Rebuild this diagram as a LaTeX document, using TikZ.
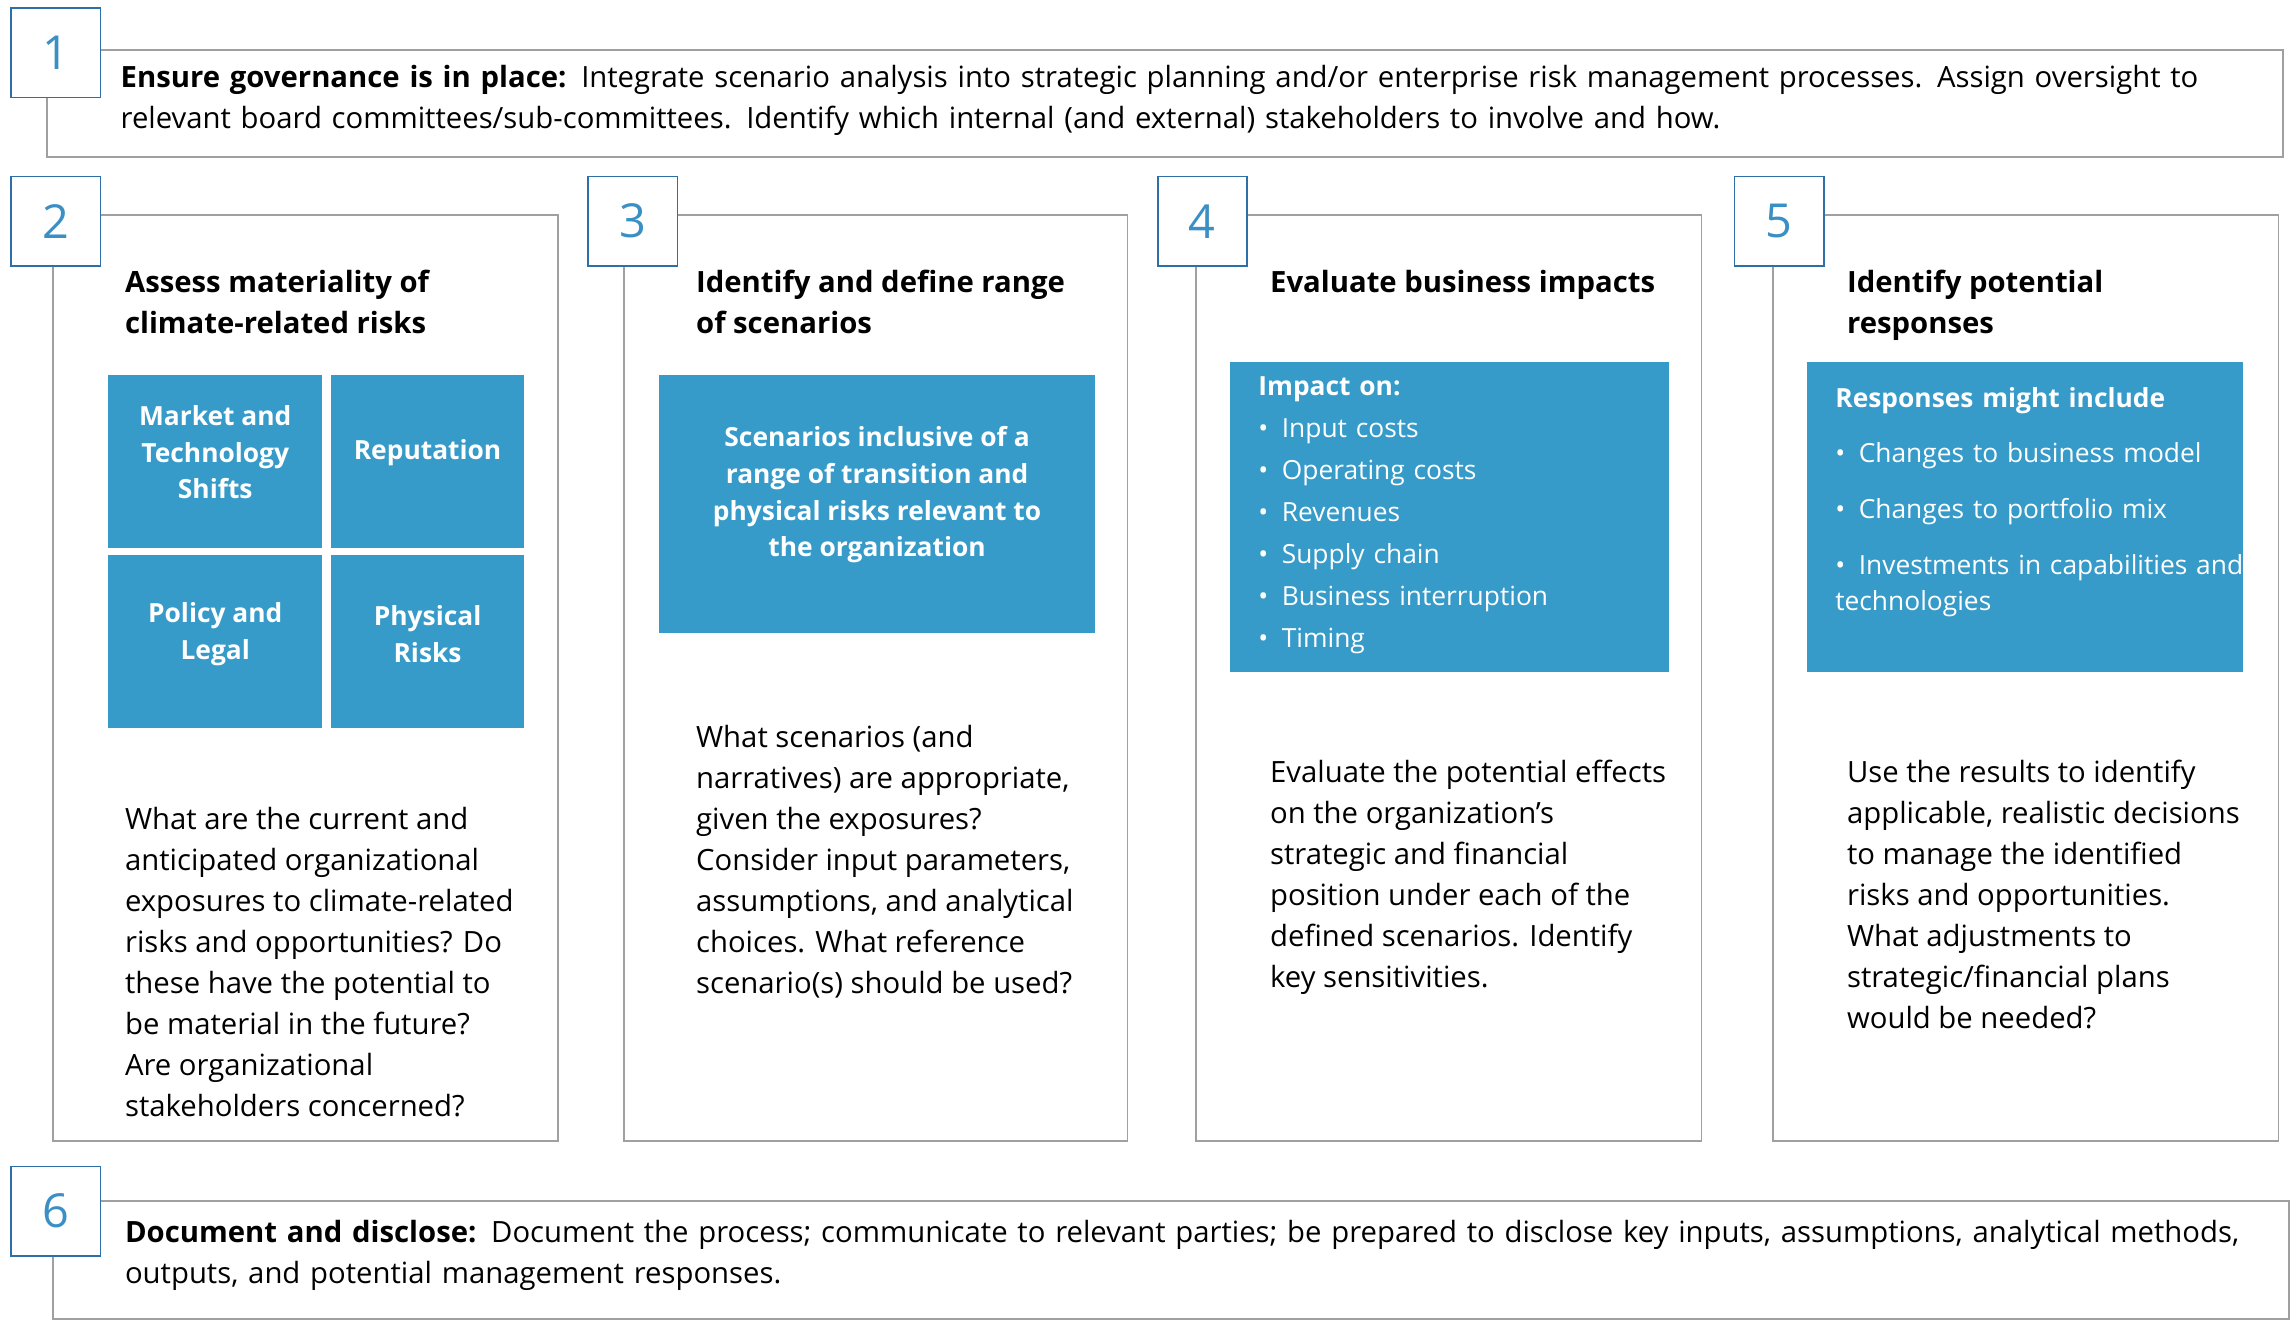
\documentclass[tikz,border=0pt]{standalone}
\usepackage{fontspec}
\setmainfont{Open Sans}
\definecolor{tile}{HTML}{369BC9}
\definecolor{numc}{HTML}{3A8FC4}
\definecolor{numb}{HTML}{2F6FA8}
\definecolor{frame}{HTML}{A0A0A0}
\newcommand{\bul}[1]{\par\hangindent=8pt\hangafter=1\noindent\makebox[8pt][l]{\textbullet}#1}
\tikzset{
 panel/.style={draw=frame,line width=0.6pt},
 numbox/.style={draw=numb,fill=white,line width=0.6pt,minimum width=30.5pt,minimum height=30.5pt,anchor=north west,inner sep=0pt,font=\fontsize{16}{16}\selectfont,text=numc},
 tilebox/.style={fill=tile},
 txt/.style={anchor=north west,inner sep=0pt,align=left,font=\fontsize{10}{14}\selectfont},
 ttl/.style={txt,font=\fontsize{10}{14}\selectfont\bfseries},
 tiletxt/.style={align=center,text=white,inner sep=0pt,font=\fontsize{9}{12.5}\selectfont\bfseries},
}
\begin{document}
\begin{tikzpicture}[x=0.5pt,y=-0.5pt]
\useasboundingbox (0,0) rectangle (1568,911);
% panel 1
\draw[panel] (32,34) rectangle (1559,107);
\node[numbox] (n1) at (7,5) {1};
\node[txt,text width=740pt] (t1) at (82,44) {\textbf{Ensure governance is in place:} Integrate scenario analysis into strategic planning and/or enterprise risk management processes. Assign oversight to\\relevant board committees/sub-committees. Identify which internal (and external) stakeholders to involve and how.};
% panel 2
\draw[panel] (36,147) rectangle (381,779);
\node[numbox] (n2) at (7,120) {2};
\node[ttl] (h2) at (85,184) {Assess materiality of\\climate-related risks};
\fill[tilebox] (74,256) rectangle (220,374);
\fill[tilebox] (226,256) rectangle (358,374);
\fill[tilebox] (74,379) rectangle (220,497);
\fill[tilebox] (226,379) rectangle (358,497);
\node[tiletxt] (a1) at (147,309) {Market and\\Technology\\Shifts};
\node[tiletxt] (a2) at (292,309) {Reputation};
\node[tiletxt] (a3) at (147,433) {Policy and\\Legal};
\node[tiletxt] (a4) at (292,433) {Physical\\Risks};
\node[txt] (b2) at (85,551) {What are the current and\\anticipated organizational\\exposures to climate-related\\risks and opportunities? Do\\these have the potential to\\be material in the future?\\Are organizational\\stakeholders concerned?};
% panel 3
\draw[panel] (426,147) rectangle (770,779);
\node[numbox] (n3) at (401,120) {3};
\node[ttl] (h3) at (475,184) {Identify and define range\\of scenarios};
\fill[tilebox] (450,256) rectangle (748,432);
\node[tiletxt] (a5) at (599,338) {Scenarios inclusive of a\\range of transition and\\physical risks relevant to\\the organization};
\node[txt] (b3) at (475,495) {What scenarios (and\\narratives) are appropriate,\\given the exposures?\\Consider input parameters,\\assumptions, and analytical\\choices. What reference\\scenario(s) should be used?};
% panel 4
\draw[panel] (817,147) rectangle (1162,779);
\node[numbox] (n4) at (790,120) {4};
\node[ttl] (h4) at (867,184) {Evaluate business impacts};
\fill[tilebox] (840,247) rectangle (1140,459);
\node[txt,text=white,text width=140pt,font=\fontsize{9}{14.3}\selectfont] (l4) at (859,257) {\textbf{Impact on:}\bul{Input costs}\bul{Operating costs}\bul{Revenues}\bul{Supply chain}\bul{Business interruption}\bul{Timing}};
\node[txt] (b4) at (867,519) {Evaluate the potential effects\\on the organization’s\\strategic and financial\\position under each of the\\defined scenarios. Identify\\key sensitivities.};
% panel 5
\draw[panel] (1211,147) rectangle (1556,779);
\node[numbox] (n5) at (1184,120) {5};
\node[ttl] (h5) at (1261,184) {Identify potential\\responses};
\fill[tilebox] (1234,247) rectangle (1532,459);
\node[txt,text=white,text width=140pt,font=\fontsize{9}{12.5}\selectfont] (l5) at (1253,264) {\textbf{Responses might include}\par\vspace{6.5pt}\bul{Changes to business model}\par\vspace{6.5pt}\bul{Changes to portfolio mix}\par\vspace{6.5pt}\bul{Investments in capabilities and technologies}};
\node[txt] (b5) at (1261,519) {Use the results to identify\\applicable, realistic decisions\\to manage the identified\\risks and opportunities.\\What adjustments to\\strategic/financial plans\\would be needed?};
% panel 6
\draw[panel] (36,820) rectangle (1563,901);
\node[numbox] (n6) at (7,796) {6};
\node[txt,text width=740pt] (t6) at (85,833) {\textbf{Document and disclose:} Document the process; communicate to relevant parties; be prepared to disclose key inputs, assumptions, analytical methods,\\outputs, and potential management responses.};
\end{tikzpicture}
\end{document}
